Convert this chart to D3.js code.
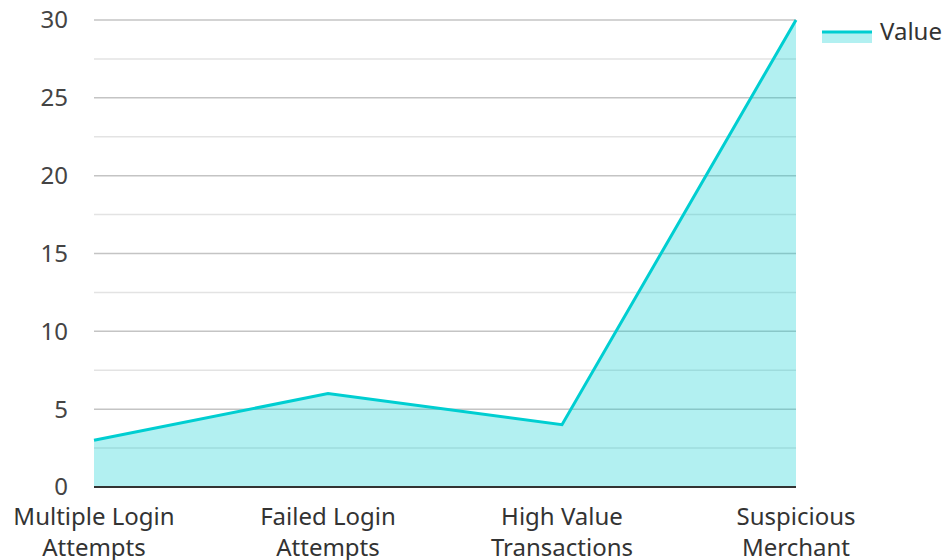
<!DOCTYPE html>
<html>
<head>
<meta charset="utf-8">
<script src="https://cdn.jsdelivr.net/npm/d3@7"></script>
<style>
  body { margin: 0; background: #fff; }
  svg { font-family: "Noto Sans", "Open Sans", sans-serif; }
</style>
</head>
<body>
<div id="chart"></div>
<script>
const categories = ["Multiple Login Attempts", "Failed Login Attempts", "High Value Transactions", "Suspicious Merchant"];
const values = [3, 6, 4, 30];
const yTicks = [0, 5, 10, 15, 20, 25, 30];
const yMinorTicks = [2.5, 7.5, 12.5, 17.5, 22.5, 27.5];
const seriesName = "Value";

const width = 946, height = 560;
const margin = { top: 20, right: 150, bottom: 73, left: 94 };
const color = "#00CED1";

const svg = d3.select("#chart").append("svg")
    .attr("width", width)
    .attr("height", height);

const x = d3.scalePoint()
    .domain(categories)
    .range([margin.left, width - margin.right]);

const y = d3.scaleLinear()
    .domain([0, 30])
    .range([height - margin.bottom, margin.top]);

// gridlines
svg.append("g").selectAll("line.minor")
    .data(yMinorTicks)
    .enter().append("line")
    .attr("x1", margin.left).attr("x2", width - margin.right)
    .attr("y1", d => y(d)).attr("y2", d => y(d))
    .attr("stroke", "#e3e3e3").attr("stroke-width", 1.5);

svg.append("g").selectAll("line.major")
    .data(yTicks.filter(d => d > 0))
    .enter().append("line")
    .attr("x1", margin.left).attr("x2", width - margin.right)
    .attr("y1", d => y(d)).attr("y2", d => y(d))
    .attr("stroke", "#c4c4c4").attr("stroke-width", 1.5);

// area + line
const pts = categories.map((c, i) => ({ c: c, v: values[i] }));

svg.append("path")
    .datum(pts)
    .attr("fill", color)
    .attr("fill-opacity", 0.3)
    .attr("d", d3.area().x(d => x(d.c)).y0(y(0)).y1(d => y(d.v)));

svg.append("path")
    .datum(pts)
    .attr("fill", "none")
    .attr("stroke", color)
    .attr("stroke-width", 3)
    .attr("stroke-linejoin", "miter")
    .attr("d", d3.line().x(d => x(d.c)).y(d => y(d.v)));

// baseline axis
svg.append("line")
    .attr("x1", margin.left).attr("x2", width - margin.right)
    .attr("y1", y(0)).attr("y2", y(0))
    .attr("stroke", "#333").attr("stroke-width", 2);

// y tick labels
svg.append("g").selectAll("text")
    .data(yTicks)
    .enter().append("text")
    .attr("x", 68)
    .attr("y", d => y(d))
    .attr("dy", "0.35em")
    .attr("text-anchor", "end")
    .attr("font-size", 24)
    .attr("fill", "#444")
    .text(d => d);

// x labels, wrapped to two lines
const xl = svg.append("g").selectAll("text")
    .data(categories)
    .enter().append("text")
    .attr("x", d => x(d))
    .attr("y", 525)
    .attr("text-anchor", "middle")
    .attr("font-size", 24)
    .attr("fill", "#333");

xl.each(function (d) {
    const words = d.split(" ");
    const first = words.slice(0, words.length - 1).join(" ");
    const last = words[words.length - 1];
    const t = d3.select(this);
    t.append("tspan").attr("x", x(d)).attr("dy", 0).text(first);
    t.append("tspan").attr("x", x(d)).attr("dy", 31).text(last);
});

// legend
const lg = svg.append("g").attr("transform", "translate(822,32)");
lg.append("rect")
    .attr("x", 0).attr("y", 0)
    .attr("width", 50).attr("height", 11)
    .attr("fill", color).attr("fill-opacity", 0.3);
lg.append("line")
    .attr("x1", 0).attr("x2", 50)
    .attr("y1", 0).attr("y2", 0)
    .attr("stroke", color).attr("stroke-width", 3);
lg.append("text")
    .attr("x", 58).attr("y", 0)
    .attr("dy", "0.35em")
    .attr("font-size", 24)
    .attr("fill", "#333")
    .text(seriesName);
</script>
</body>
</html>
